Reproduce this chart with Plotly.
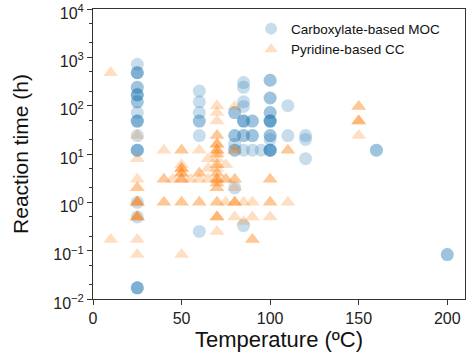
import plotly.graph_objects as go

# Carboxylate-based MOC (temperature in ºC, reaction time in h)
moc_temp = [25]*24 + [60]*7 + [80]*8 + [85]*11 + [90]*5 + [95] + [100]*17 + [110]*2 + [120]*3 + [160]*2 + [200]*2
moc_time = [720, 480, 480, 480, 240, 240, 168, 168, 168, 120, 120, 72, 48, 48, 48, 24, 12, 12, 12, 1, 0.5, 0.017, 0.017, 0.017,
            200, 120, 72, 48, 48, 24, 0.25,
            72, 72, 24, 24, 16, 12, 12, 2,
            300, 240, 120, 96, 48, 48, 48, 24, 24, 12, 0.33,
            48, 48, 24, 24, 12,
            12,
            336, 336, 144, 144, 72, 72, 48, 48, 48, 48, 24, 24, 20, 12, 12, 12, 12,
            100, 24,
            24, 20, 8,
            12, 12,
            0.083, 0.083]

# Pyridine-based CC
cc_temp = ([10]*2 + [25]*15 + [40]*5 + [45] + [50]*15 + [55] + [60]*6 + [65]*3 + [70]*32 + [75]*4 +
           [80]*10 + [85]*2 + [90]*4 + [100]*5 + [110]*3 + [150]*6)
cc_time = [480, 0.17,
           24, 8, 3, 2, 2, 1, 1, 1, 1, 0.5, 0.5, 0.5, 0.5, 0.17, 0.083,
           12, 3, 3, 1, 1,
           3,
           12, 12, 6, 5, 5, 5, 4, 4, 4, 3, 3, 3, 1, 1, 0.083,
           3,
           12, 4, 4, 3, 1, 1,
           8, 5, 3,
           100, 72, 48, 24, 24, 16, 16, 16, 12, 12, 12, 10, 10, 8, 6, 6, 5, 4, 4, 3, 3, 3, 2.5, 2.5, 2, 2, 1, 1, 0.5, 0.5, 0.5, 0.25,
           6, 3, 3, 1,
           96, 12, 12, 3, 3, 2, 1, 1, 1, 0.5,
           0.4, 1,
           1, 0.5, 0.17, 0.17,
           3, 3, 1, 1, 0.5,
           12, 12, 1,
           96, 96, 48, 48, 48, 24]

x_ticks = [0, 50, 100, 150, 200]
y_ticks = [0.01, 0.1, 1, 10, 100, 1000, 10000]
y_ticktext = ["10<sup>−2</sup>", "10<sup>−1</sup>", "10<sup>0</sup>", "10<sup>1</sup>",
              "10<sup>2</sup>", "10<sup>3</sup>", "10<sup>4</sup>"]

font_family = "Liberation Sans, Arial, sans-serif"

fig = go.Figure()
fig.add_trace(go.Scatter(
    x=moc_temp, y=moc_time, mode="markers", name="Carboxylate-based MOC",
    marker=dict(symbol="circle", size=13, color="#1f77b4", opacity=0.25, line=dict(width=0)),
))
fig.add_trace(go.Scatter(
    x=cc_temp, y=cc_time, mode="markers", name="Pyridine-based CC",
    marker=dict(symbol="triangle-up", size=13, color="#ff7f0e", opacity=0.25, line=dict(width=0)),
))

axis_common = dict(
    showline=True, linecolor="#333333", linewidth=1, mirror=True,
    ticks="outside", ticklen=5, tickwidth=1, tickcolor="#333333",
    showgrid=False, zeroline=False, automargin=False,
    ticklabeloverflow="allow",
    tickfont=dict(family=font_family, size=16, color="#222222"),
)

fig.update_layout(
    width=474, height=359,
    margin=dict(l=93, r=9, t=9, b=60),
    paper_bgcolor="white", plot_bgcolor="white",
    font=dict(family=font_family, color="#111111"),
    showlegend=True,
    legend=dict(
        x=0.425, y=0.985, xanchor="left", yanchor="top",
        bgcolor="rgba(0,0,0,0)", borderwidth=0,
        font=dict(family=font_family, size=13.5, color="#111111"),
        itemsizing="constant",
    ),
    xaxis=dict(
        range=[0, 210], tickvals=x_ticks,
        title=dict(text="Temperature (ºC)", font=dict(family=font_family, size=22, color="#111111"), standoff=2),
        **axis_common,
    ),
    yaxis=dict(
        type="log", range=[-2, 4], tickvals=y_ticks, ticktext=y_ticktext,
        ticklabelshift=4,
        title=dict(text="Reaction time (h)", font=dict(family=font_family, size=21, color="#111111"), standoff=18),
        minor=dict(ticks="outside", ticklen=3, tickcolor="#333333", showgrid=False),
        **axis_common,
    ),
)

fig.write_html("out.html", config={"displayModeBar": False},
               post_script="document.body.style.margin='0';")
